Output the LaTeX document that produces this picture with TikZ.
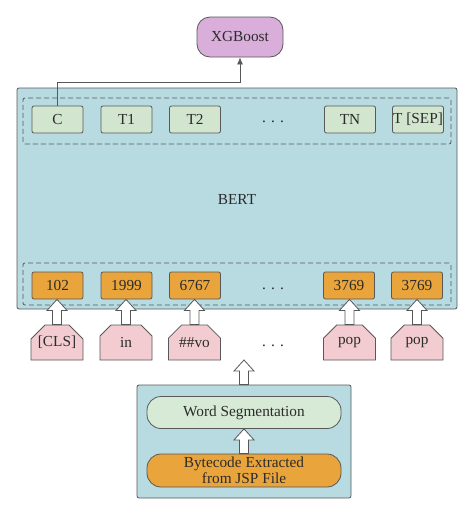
\documentclass[tikz,border=0pt]{standalone}
\usepackage{fontspec}
\setmainfont{Liberation Serif}
\usetikzlibrary{calc,arrows.meta,shapes.misc}
\definecolor{bertblue}{HTML}{B7DBE1}
\definecolor{tgreen}{HTML}{D2E6CF}
\definecolor{torange}{HTML}{E9A53B}
\definecolor{tpurple}{HTML}{D9AEDA}
\definecolor{tpink}{HTML}{F2CCD1}
\definecolor{wsgreen}{HTML}{D6EAD6}
\definecolor{edge}{HTML}{585858}
\definecolor{txt}{HTML}{2B2B2B}
\tikzset{
  base/.style={draw=edge, line width=0.8pt, inner sep=0pt},
  bigbox/.style={base, fill=bertblue, rounded corners=2pt},
  dashbox/.style={draw=edge, line width=0.8pt, dash pattern=on 5pt off 3pt, rounded corners=2pt, inner sep=0pt},
  gbox/.style={base, fill=tgreen, rounded corners=2pt, minimum width=51pt, minimum height=27pt},
  obox/.style={base, fill=torange, rounded corners=2pt, minimum width=51pt, minimum height=27pt},
  pbox/.style={base, fill=tpink, chamfered rectangle, chamfered rectangle corners={north west,north east},
    chamfered rectangle xsep=6pt, chamfered rectangle ysep=8pt, minimum width=52pt, minimum height=35pt},
  pill/.style={base, rounded corners=14pt, minimum width=194pt, minimum height=32pt, align=center},
  harrow/.style={draw=edge, line width=0.8pt, fill=white},
  conn/.style={draw=edge, line width=0.8pt, -{Latex[length=7pt,width=6pt]}},
  dots/.style={inner sep=0pt}
}
\newcommand\hollowup[2]{\draw[harrow] let \p1=(#1), \p2=(#2) in
  (\x1-4.5pt,\y1) -- (\x1-4.5pt,\y2-11pt) -- (\x1-10pt,\y2-11pt) -- (\x1,\y2)
  -- (\x1+10pt,\y2-11pt) -- (\x1+4.5pt,\y2-11pt) -- (\x1+4.5pt,\y1) -- cycle;}
\begin{document}
\begin{tikzpicture}[x=1pt,y=-1pt,font=\fontsize{15.3}{16.5}\selectfont,text=txt]
\useasboundingbox (0,0) rectangle (474,517);
% XGBoost
\node[base, fill=tpurple, rounded corners=13pt, minimum width=86pt, minimum height=40pt] (xg) at (240,37) {XGBoost};
% BERT box
\node[bigbox, minimum width=440pt, minimum height=221pt] (bert) at (237,198.5) {};
\node (bertlabel) at (237,200) {BERT};
\node[dashbox, minimum width=428pt, minimum height=46pt] (topdash) at (237,121) {};
\node[dashbox, minimum width=428pt, minimum height=42pt] (botdash) at (237,284) {};
% top tokens
\node[gbox] (C) at (57.5,119.5) {C};
\node[gbox] (T1) at (126.5,119.5) {T1};
\node[gbox] (T2) at (195,119.5) {T2};
\node[dots] (tdots) at (273,122) {. . .};
\node[gbox] (TN) at (350,119.5) {TN};
\node[gbox] (TS) at (418,119.5) {T [SEP]};
% ids
\node[obox] (o1) at (57.5,285.5) {102};
\node[obox] (o2) at (126.5,285.5) {1999};
\node[obox] (o3) at (195,285.5) {6767};
\node[dots] (odots) at (273,289) {. . .};
\node[obox] (o4) at (349,285.5) {3769};
\node[obox] (o5) at (417,285.5) {3769};
% word pieces
\node[pbox] (p1) at (57,342.5) {[CLS]};
\node[pbox] (p2) at (126,342.5) {in};
\node[pbox] (p3) at (194.5,342.5) {\#\#vo};
\node[dots] (pdots) at (273,346) {. . .};
\node[pbox] (p4) at (349.5,342.5) {pop};
\node[pbox] (p5) at (417,342.5) {pop};
% bottom box
\node[bigbox, minimum width=214pt, minimum height=113pt] (prep) at (244,441.5) {};
\node[pill, fill=wsgreen] (ws) at (244,412.5) {Word Segmentation};
\node[pill, fill=torange, minimum height=33pt] (bc) at (244,470.5) {Bytecode Extracted\\from JSP File};
\coordinate (uptip) at (244,360);
% connectors
\draw[conn] (C.north) -- (C.north |- 0,82) -- (xg.south |- 0,82) -- (xg.south);
\hollowup{p1.north}{o1.south}
\hollowup{p2.north}{o2.south}
\hollowup{p3.north}{o3.south}
\hollowup{p4.north}{o4.south}
\hollowup{p5.north}{o5.south}
\hollowup{prep.north}{uptip}
\hollowup{bc.north}{ws.south}
\end{tikzpicture}
\end{document}
